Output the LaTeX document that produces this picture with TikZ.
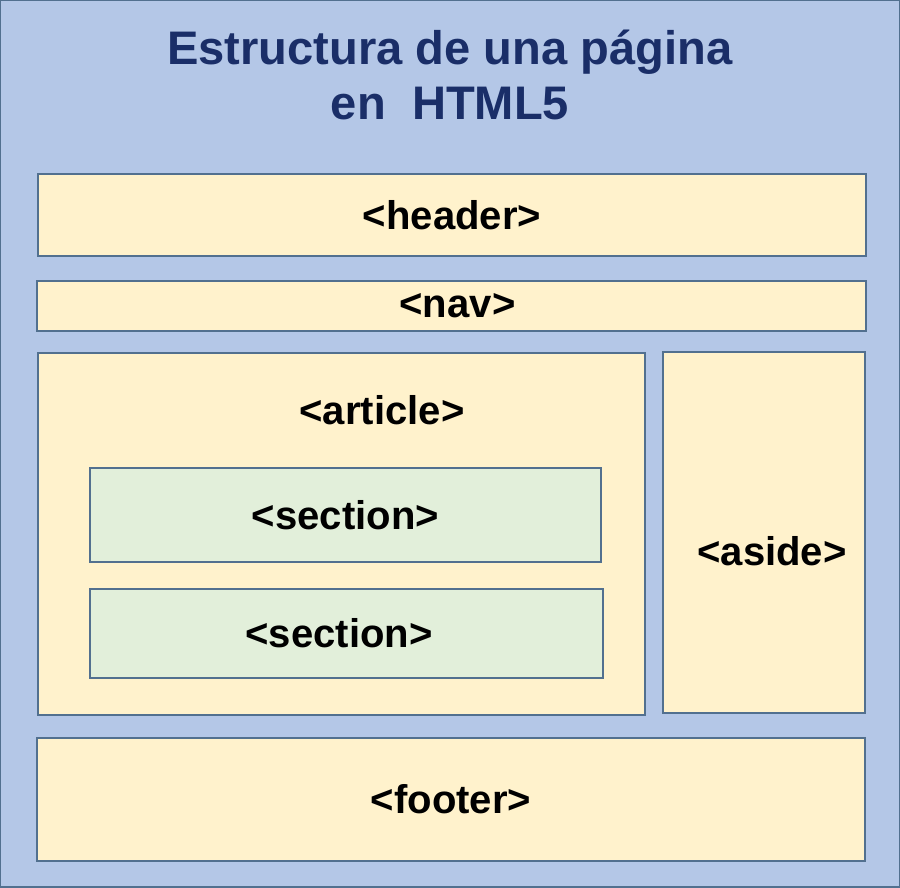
\documentclass[tikz,border=0pt]{standalone}
\usepackage{fontspec}
\setmainfont{Liberation Sans}
\definecolor{fondo}{HTML}{B4C7E7}
\definecolor{crema}{HTML}{FFF2CC}
\definecolor{verde}{HTML}{E2EFDA}
\definecolor{borde}{HTML}{52708F}
\definecolor{titulo}{HTML}{1A2E68}

\begin{document}
\begin{tikzpicture}[caja/.style={draw=borde,line width=1pt,fill=crema,inner sep=0pt},
	seccion/.style={caja,fill=verde},
	etiqueta/.style={font=\fontsize{22.8}{26}\selectfont\bfseries}]
		\useasboundingbox (0,0) rectangle (18,17.74);
		\draw[borde,line width=1.6pt,fill=fondo] (0,0) rectangle (18,17.74);

		\node[titulo,align=center,font=\fontsize{26.8}{31.3}\selectfont\bfseries] (titulo) at (9,16.25) {Estructura de una página\\en\ \ HTML5};

		\node[caja,etiqueta,minimum width=16.56cm,minimum height=1.64cm] (header) at (9.04,13.44) {<header>};
		\node[caja,minimum width=16.58cm,minimum height=1cm,label={[etiqueta,xshift=0.12cm]center:<nav>}] (nav) at (9.03,11.62) {};

		\node[caja,minimum width=12.14cm,minimum height=7.24cm] (article) at (6.83,7.06) {};
		\node[etiqueta] (tarticle) at (7.64,9.54) {<article>};
		\node[seccion,etiqueta,minimum width=10.22cm,minimum height=1.88cm] (section1) at (6.91,7.44) {<section>};
		\node[seccion,minimum width=10.26cm,minimum height=1.78cm,label={[etiqueta,xshift=-0.15cm]center:<section>}] (section2) at (6.93,5.07) {};

		\node[caja,minimum width=4.04cm,minimum height=7.22cm] (aside) at (15.28,7.09) {};
		\node[etiqueta] (taside) at (15.44,6.72) {<aside>};

		\node[caja,etiqueta,minimum width=16.56cm,minimum height=2.46cm] (footer) at (9.02,1.75) {<footer>};
	\end{tikzpicture}
\end{document}
